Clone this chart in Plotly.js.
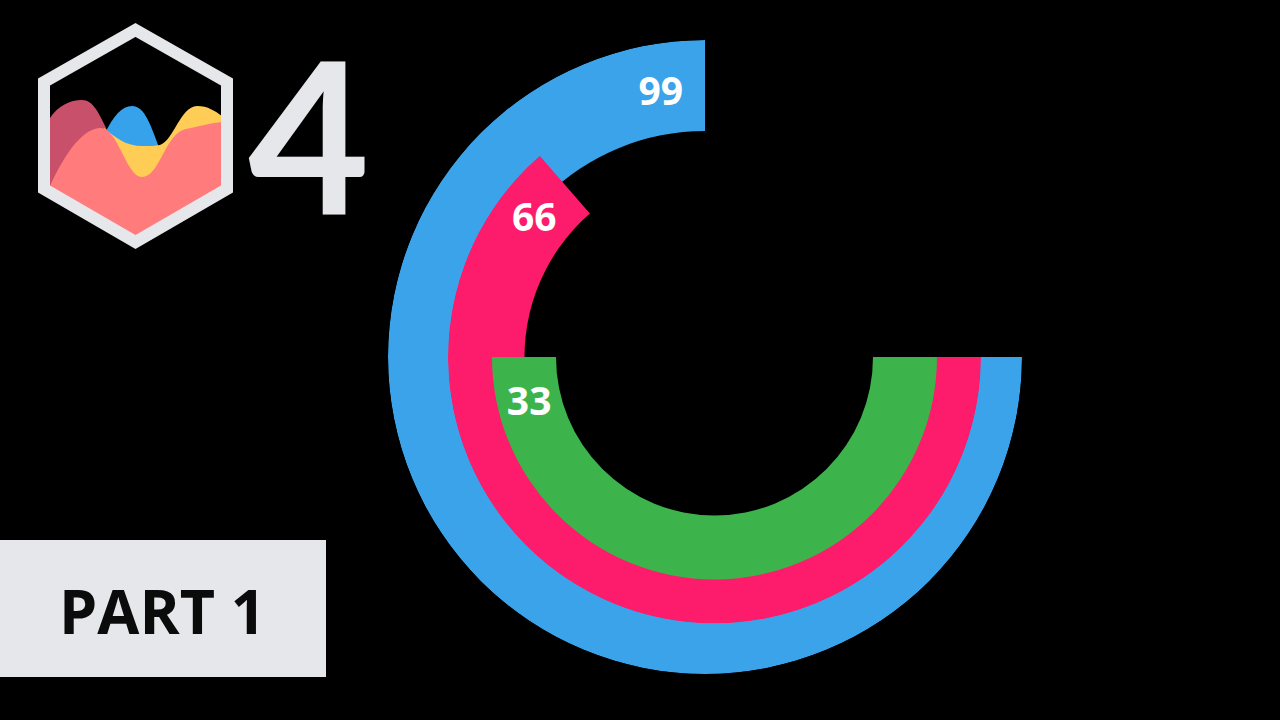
<!DOCTYPE html>
<html>
<head>
<meta charset="utf-8">
<script src="https://cdn.plot.ly/plotly-3.0.1.min.js"></script>
<style>html,body{margin:0;padding:0;background:#000;}#chart{width:1280px;height:720px;}</style>
</head>
<body>
<div id="chart"></div>
<script>
// ---- data ----
const seriesNames = ['Blue', 'Pink', 'Green'];
const seriesValues = [99, 66, 33];          // labels shown on each ring
const arcDegrees = [270, 229, 180];         // sweep of each ring, clockwise from 3 o'clock
const logoText = '4';
const badgeText = 'PART 1';

// ---- styling / layout (not data) ----
const W = 1280, H = 720;
const colors = ['#3aa3ea', '#fd1b6b', '#3cb44b'];
// ring geometry in pixels: [subplot, inner radius, outer radius]
const ringGeom = [['polar', 226, 317], ['polar2', 190, 266.5], ['polar2', 158.5, 222.5]];
const subplots = {
  polar:  {cx: 705,   cy: 357, R: 317},
  polar2: {cx: 714.5, cy: 357, R: 266.5}
};
const labelArcOffsetPx = 44.5;
const labelDropPx = [6, 4, 4];

function domainFor(s) {
  return {
    x: [(s.cx - s.R) / W, (s.cx + s.R) / W],
    y: [1 - (s.cy + s.R) / H, 1 - (s.cy - s.R) / H]
  };
}
function polarLayout(s) {
  return {
    domain: domainFor(s),
    bgcolor: 'rgba(0,0,0,0)',
    barmode: 'overlay',
    radialaxis: {visible: false, range: [0, s.R]},
    angularaxis: {visible: false, rotation: 0, direction: 'clockwise', showgrid: false, showline: false}
  };
}

const traces = [];
seriesValues.forEach((v, i) => {
  const [sp, rIn, rOut] = ringGeom[i];
  traces.push({
    type: 'barpolar', subplot: sp, name: seriesNames[i],
    theta: [arcDegrees[i] / 2], width: [arcDegrees[i]],
    base: [rIn], r: [rOut - rIn],
    marker: {color: colors[i], line: {width: 0}},
    hoverinfo: 'skip', showlegend: false
  });
});
seriesValues.forEach((v, i) => {
  const [sp, rIn, rOut] = ringGeom[i];
  const rMid = (rIn + rOut) / 2;
  const th = (arcDegrees[i] - (labelArcOffsetPx / rMid) * 180 / Math.PI) * Math.PI / 180;
  // relative pixel position (clockwise, y down), nudged down to centre the digits visually
  const dx = rMid * Math.cos(th), dy = rMid * Math.sin(th) + labelDropPx[i];
  const rL = Math.hypot(dx, dy);
  const thL = Math.atan2(dy, dx) * 180 / Math.PI;
  traces.push({
    type: 'scatterpolar', subplot: sp, mode: 'text',
    r: [rL], theta: [thL], text: [String(v)],
    textposition: 'middle center',
    textfont: {family: 'Open Sans', size: 39, color: '#ffffff', weight: 700},
    cliponaxis: false, hoverinfo: 'skip', showlegend: false
  });
});

// pixel path -> paper path
function pp(str) {
  const t = str.trim().split(/[\s,]+/);
  const out = []; let isX = true;
  for (const tok of t) {
    if (/^[A-Za-z]$/.test(tok)) { out.push(tok); isX = true; continue; }
    const n = parseFloat(tok);
    out.push(isX ? (n / W).toFixed(5) : (1 - n / H).toFixed(5));
    isX = !isX;
  }
  return out.join(' ');
}
function pathShape(d, fill, line, lw) {
  return {type: 'path', xref: 'paper', yref: 'paper', path: pp(d),
    fillcolor: fill || 'rgba(0,0,0,0)', line: {color: line || 'rgba(0,0,0,0)', width: lw || 0}, layer: 'above'};
}

const shapes = [
  // Chart.js style logo
  pathShape('M 50 195 L 50 118 C 58 106 70 100 82 100 C 93 100 99 113 108 132 L 108 175 Z', '#c9506b'),
  pathShape('M 104 135 C 114 115 122 106 132 106 C 145 106 151 126 160 150 L 130 165 Z', '#36a2eb'),
  pathShape('M 104 128 C 116 138 126 146 142 146 C 150 146 155 146 160 145 C 174 140 180 107 197 106 C 208 106 215 111 222 116 L 222 180 L 104 180 Z', '#ffcd56'),
  pathShape('M 50 186 C 62 160 80 129 100 128 C 118 127 126 177 142 177 C 160 177 165 133 186 129 C 200 126 212 123 222 122 L 222 190 L 135.5 240 Z', '#ff7b7c'),
  pathShape('M 135.5 30 L 227 82 L 227 189 L 135.5 242 L 44 189 L 44 82 Z', null, '#e6e7ea', 12),
  // badge
  {type: 'rect', xref: 'paper', yref: 'paper', x0: 0, x1: 326 / W, y0: 1 - 677 / H, y1: 1 - 540 / H,
   fillcolor: '#e6e7ea', line: {width: 0}, layer: 'above'}
];

const annotations = [
  {xref: 'paper', yref: 'paper', x: 309 / W, y: 1 - 133 / H, xanchor: 'center', yanchor: 'middle',
   text: logoText, showarrow: false, valign: 'middle',
   font: {family: 'Lato', size: 210, color: '#e6e7ea', weight: 700}},
  {xref: 'paper', yref: 'paper', x: 162 / W, y: 1 - 610 / H, xanchor: 'center', yanchor: 'middle',
   text: '<b>' + badgeText + '</b>', showarrow: false,
   font: {family: 'Open Sans', size: 61, color: '#0b0b0b'}}
];

const layout = {
  width: W, height: H,
  margin: {l: 0, r: 0, t: 0, b: 0, pad: 0},
  paper_bgcolor: '#000000', plot_bgcolor: '#000000',
  showlegend: false,
  polar: polarLayout(subplots.polar),
  polar2: polarLayout(subplots.polar2),
  shapes: shapes,
  annotations: annotations
};

Plotly.newPlot('chart', traces, layout, {displayModeBar: false, staticPlot: true});
</script>
</body>
</html>
